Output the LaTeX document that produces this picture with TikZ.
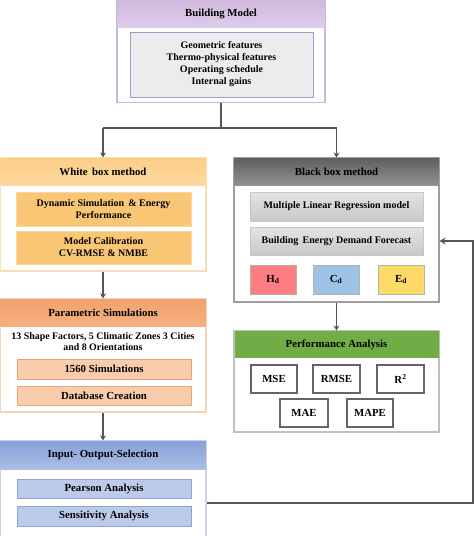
\documentclass[tikz,border=0pt]{standalone}
\usepackage{fontspec}
\setmainfont{Liberation Serif}
\usetikzlibrary{arrows.meta}
\definecolor{arrcol}{HTML}{555555}
\definecolor{bmborder}{RGB}{200,185,220}
\definecolor{bmtop}{RGB}{208,186,222}
\definecolor{bmbot}{RGB}{221,204,232}
\definecolor{bminborder}{RGB}{170,150,200}
\definecolor{bminfill}{RGB}{236,236,236}
\definecolor{wbborder}{RGB}{248,222,180}
\definecolor{wbtop}{RGB}{252,206,135}
\definecolor{wbbot}{RGB}{253,217,158}
\definecolor{wbinborder}{RGB}{250,215,160}
\definecolor{wbinfill}{RGB}{249,198,118}
\definecolor{psborder}{RGB}{246,210,185}
\definecolor{pstop}{RGB}{242,162,108}
\definecolor{psbot}{RGB}{245,176,128}
\definecolor{psinborder}{RGB}{230,165,125}
\definecolor{psinfill}{RGB}{249,204,172}
\definecolor{ioborder}{RGB}{200,210,232}
\definecolor{iotop}{RGB}{135,160,215}
\definecolor{iobot}{RGB}{172,190,230}
\definecolor{ioinborder}{RGB}{140,165,210}
\definecolor{ioinfill}{RGB}{188,203,234}
\definecolor{bbtop}{RGB}{95,95,95}
\definecolor{bbbot}{RGB}{145,145,145}
\definecolor{bbintop}{RGB}{228,228,228}
\definecolor{bbinbot}{RGB}{200,200,200}
\definecolor{hdfill}{RGB}{255,124,128}
\definecolor{cdfill}{RGB}{157,195,230}
\definecolor{edfill}{RGB}{255,217,102}
\definecolor{pafill}{RGB}{112,173,71}
\tikzset{
  x=1pt,y=-1pt,
  every node/.style={font=\bfseries\fontsize{10}{12}\selectfont, inner sep=0pt, align=center, text=black},
  outerbox/.style={draw=#1, line width=1.1pt, fill=white, rectangle},
  hdr/.style={rectangle, draw=none, font=\bfseries\fontsize{10.8}{13}\selectfont},
  inbox/.style={rectangle, line width=0.6pt},
  bigtext/.style={font=\bfseries\fontsize{10.8}{13}\selectfont},
  metric/.style={rectangle, draw=gray!80!black, line width=1.1pt, fill=white, font=\bfseries\fontsize{10.8}{13}\selectfont},
  arr/.style={draw=arrcol, line width=1.6pt, -{Stealth[length=5pt,width=6pt]}},
  fbline/.style={draw=arrcol, line width=2pt, -{Stealth[length=6pt,width=7pt]}},
}
\begin{document}
\begin{tikzpicture}
\useasboundingbox (0,0) rectangle (474,536);
% Building model
\node[outerbox=bmborder, minimum width=208, minimum height=102] (bm) at (221,51.5) {};
\node[hdr, top color=bmtop, bottom color=bmbot, minimum width=207, minimum height=27] (bmh) at (221,14) {Building Model};
\node[inbox, draw=bminborder, fill=bminfill, minimum width=183, minimum height=65, font=\bfseries\fontsize{10}{12}\selectfont] (bmi) at (221.5,64.5) {Geometric features\\Thermo-physical features\\Operating schedule\\Internal gains};

% White box
\node[outerbox=wbborder, minimum width=206, minimum height=113] (wb) at (103,214.5) {};
\node[hdr, top color=wbtop, bottom color=wbbot, minimum width=205, minimum height=27] (wbh) at (103,171.5) {White \,box method};
\node[inbox, draw=wbinborder, fill=wbinfill, minimum width=175, minimum height=34] (wb1) at (103.5,209) {Dynamic Simulation \,\& Energy\\Performance};
\node[inbox, draw=wbinborder, fill=wbinfill, minimum width=175, minimum height=33] (wb2) at (103.5,247.5) {Model Calibration\\CV-RMSE \& NMBE};

% Parametric
\node[outerbox=psborder, minimum width=206, minimum height=113] (ps) at (103,355.5) {};
\node[hdr, top color=pstop, bottom color=psbot, minimum width=205, minimum height=27] (psh) at (103,312.5) {Parametric Simulations};
\node[font=\bfseries\fontsize{9.9}{11.5}\selectfont] (pst) at (103,341.5) {13 Shape Factors, 5 Climatic Zones 3 Cities\\and 8 Orientations};
\node[inbox, bigtext, draw=psinborder, fill=psinfill, minimum width=174, minimum height=20] (ps1) at (104,369) {1560 Simulations};
\node[inbox, bigtext, draw=psinborder, fill=psinfill, minimum width=174, minimum height=19] (ps2) at (104,395.5) {Database Creation};

% Input-Output
\node[outerbox=ioborder, minimum width=206, minimum height=96] (io) at (103,489) {};
\node[hdr, top color=iotop, bottom color=iobot, minimum width=205, minimum height=28] (ioh) at (103,455) {Input- Output-Selection};
\node[inbox, bigtext, draw=ioinborder, fill=ioinfill, minimum width=174, minimum height=19] (io1) at (104,488.5) {Pearson Analysis};
\node[inbox, bigtext, draw=ioinborder, fill=ioinfill, minimum width=174, minimum height=20] (io2) at (104,516) {Sensitivity Analysis};

% Black box
\node[outerbox=gray!75, minimum width=205, minimum height=144] (bb) at (336.5,230) {};
\node[hdr, top color=bbtop, bottom color=bbbot, minimum width=204, minimum height=27] (bbh) at (336.5,171.5) {Black box method};
\node[inbox, draw=gray!45, top color=bbintop, bottom color=bbinbot, minimum width=173, minimum height=29] (bb1) at (336.5,206.5) {Multiple Linear Regression model};
\node[inbox, draw=gray!45, top color=bbintop, bottom color=bbinbot, minimum width=173, minimum height=28] (bb2) at (336.5,241) {Building \,Energy Demand Forecast};
\node[inbox, bigtext, draw=gray!60, fill=hdfill, minimum width=46, minimum height=29] (hd) at (273,279.5) {H\textsubscript{d}};
\node[inbox, bigtext, draw=gray!60, fill=cdfill, minimum width=46, minimum height=29] (cd) at (336,279.5) {C\textsubscript{d}};
\node[inbox, bigtext, draw=gray!60, fill=edfill, minimum width=46, minimum height=29] (ed) at (401,279.5) {E\textsubscript{d}};

% Performance
\node[outerbox=gray!50, minimum width=205, minimum height=101] (pa) at (336.5,381.5) {};
\node[hdr, fill=pafill, minimum width=204, minimum height=27] (pah) at (336.5,344.5) {Performance Analysis};
\node[metric, minimum width=46, minimum height=28] (mse) at (274,379) {MSE};
\node[metric, minimum width=47, minimum height=28] (rmse) at (336.5,379) {RMSE};
\node[metric, minimum width=47, minimum height=28] (r2) at (400.5,379) {R\textsuperscript{2}};
\node[metric, minimum width=48, minimum height=28] (mae) at (304,413) {MAE};
\node[metric, minimum width=46, minimum height=28] (mape) at (370,413) {MAPE};

% connectors
\coordinate (split) at (221,128);
\coordinate (fb) at (473,503);
\draw[draw=arrcol, line width=1.6pt] (bm.south) -- (split);
\draw[draw=arrcol, line width=1.6pt] (wb.north |- split) -- (bb.north |- split);
\draw[arr] (wb.north |- split) -- (wb.north);
\draw[arr] (bb.north |- split) -- (bb.north);
\draw[arr] (wb.south) -- (ps.north);
\draw[arr] (ps.south) -- (io.north);
\draw[arr] (bb.south) -- (pa.north);
\draw[fbline] (io.east |- fb) -- (fb) |- (bb.east |- bb2.east);
\end{tikzpicture}
\end{document}
